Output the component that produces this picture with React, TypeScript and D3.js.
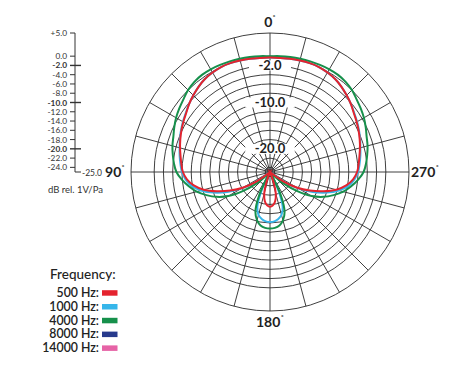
import React from 'react';
import * as d3 from 'd3';

// Polar angles (degrees, counter-clockwise from 0° at top; 90° on the left)
const angles = [
  0, 5, 10, 15, 20, 25, 30, 35, 40, 45, 50, 55, 60, 65, 70, 75, 80, 85,
  90, 95, 100, 105, 110, 115, 120, 125, 130, 135, 140, 145, 150, 155, 160, 165, 170, 175,
  180, 185, 190, 195, 200, 205, 210, 215, 220, 225, 230, 235, 240, 245, 250, 255, 260, 265,
  270, 275, 280, 285, 290, 295, 300, 305, 310, 315, 320, 325, 330, 335, 340, 345, 350, 355,
];

// dB rel. 1V/Pa
const hz500 = [
  -0.3, -0.3, -0.2, -0.1, 0.0, 0.0, -0.2, -0.5, -1.0, -1.6, -2.2, -2.9, -3.4, -3.9, -4.4, -4.9, -5.4, -5.8,
  -6.2, -7.0, -8.3, -10.2, -12.8, -15.5, -18.2, -21.5, -25, -25, -25, -25, -25, -25, -23, -20.2, -18.6, -17.8,
  -17.5, -17.8, -18.6, -20.2, -23, -25, -25, -25, -25, -25, -25, -21.5, -18.2, -15.5, -12.8, -10.2, -8.3, -7.0,
  -6.2, -5.8, -5.4, -4.9, -4.4, -3.9, -3.4, -2.9, -2.2, -1.6, -1.0, -0.5, -0.2, 0.0, 0.0, -0.1, -0.2, -0.3,
];
const hz1000 = [
  -0.3, -0.3, -0.2, -0.1, 0.0, 0.0, -0.2, -0.5, -1.0, -1.6, -2.2, -2.8, -3.3, -3.8, -4.3, -4.8, -5.2, -5.6,
  -6.0, -6.7, -7.8, -9.6, -12.0, -14.8, -17.8, -21.5, -25, -25, -25, -25, -25, -21, -17, -15.4, -14.7, -14.3,
  -14.2, -14.3, -14.7, -15.4, -17, -21, -25, -25, -25, -25, -25, -21.5, -17.8, -14.8, -12.0, -9.6, -7.8, -6.7,
  -6.0, -5.6, -5.2, -4.8, -4.3, -3.8, -3.3, -2.8, -2.2, -1.6, -1.0, -0.5, -0.2, 0.0, 0.0, -0.1, -0.2, -0.3,
];
const hz4000 = [
  0.0, 0.1, 0.2, 0.3, 0.4, 0.5, 0.6, 0.6, 0.4, 0.0, -0.6, -1.1, -1.6, -2.2, -2.8, -3.2, -3.7, -4.2,
  -4.8, -5.9, -7.2, -8.6, -10.4, -12.3, -14.6, -17.8, -21.0, -24.5, -25, -25, -25, -19.5, -15.8, -14.2, -13.3, -12.9,
  -12.8, -12.9, -13.3, -14.2, -15.8, -19.5, -25, -25, -25, -24.5, -21.0, -17.8, -14.6, -12.3, -10.4, -8.6, -7.2, -5.9,
  -4.8, -4.2, -3.7, -3.2, -2.8, -2.2, -1.6, -1.1, -0.6, 0.0, 0.4, 0.6, 0.6, 0.5, 0.4, 0.3, 0.2, 0.1,
];

const legendLabels = ['500 Hz:', '1000 Hz:', '4000 Hz:', '8000 Hz:', '14000 Hz:'];
const legendColors = ['#e4232e', '#36b6ea', '#16904b', '#273a8c', '#e663a6'];

const ringLevels = [5, 0, -2, -4, -6, -8, -10, -12, -14, -16, -18, -20, -22, -24];
const scaleTicks = ['+5.0', '0.0', '-2.0', '-4.0', '-6.0', '-8.0', '-10.0', '-12.0', '-14.0', '-16.0', '-18.0', '-20.0', '-22.0', '-24.0'];
const boldLevels = [-2, -10, -20];
const ringLabels = ['-2.0', '-10.0', '-20.0'];
const spokeAngles = [0, 15, 30, 45, 60, 75, 90, 105, 120, 135, 150, 165, 180, 195, 210, 225, 240, 255, 270, 285, 300, 315, 330, 345];
const angleLabels = [
  { deg: 0, text: '0' },
  { deg: 90, text: '90' },
  { deg: 180, text: '180' },
  { deg: 270, text: '270' },
];

const W = 474;
const H = 379;
const cx = 270;
const cy = 172;
const R = 139;
const FONT = 'Lato, "Open Sans", sans-serif';

export default function App() {
  const r = d3.scaleLinear().domain([-25, 5]).range([0, R]).clamp(true);
  const series = [
    { vals: hz1000, color: legendColors[1] },
    { vals: hz4000, color: legendColors[2] },
    { vals: hz500, color: legendColors[0] },
  ];
  const radial = d3
    .lineRadial<number>()
    .angle((_d, i) => (-angles[i] * Math.PI) / 180)
    .radius((d) => r(d))
    .curve(d3.curveCatmullRomClosed.alpha(0.5));

  const axisX = 75;
  const yScale = (db: number) => cy - r(db);
  const scaleLevels = ringLevels;

  return (
    <svg width={W} height={H} style={{ position: 'absolute', left: 0, top: 0, background: '#fff' }}>
      <rect x={0} y={0} width={W} height={H} fill="#fff" />
      {/* polar grid */}
      <g transform={`translate(${cx},${cy})`} stroke="#2a2a2a" fill="none" strokeWidth={0.9}>
        {ringLevels.map((lv) => (
          <circle key={lv} r={r(lv)} />
        ))}
        {spokeAngles.map((a) => {
          const t = (a * Math.PI) / 180;
          return <line key={a} x1={0} y1={0} x2={-R * Math.sin(t)} y2={-R * Math.cos(t)} />;
        })}
      </g>
      {/* ring labels */}
      {boldLevels.map((lv, i) => {
        const y = cy - r(lv);
        const w = ringLabels[i].length * 7.5 + 12;
        return (
          <g key={lv}>
            <rect x={cx - w / 2} y={y - 5} width={w} height={10} fill="#fff" />
            <text x={cx} y={y + 4.5} textAnchor="middle" fontFamily={FONT} fontWeight={700} fontSize={13} fill="#222">
              {ringLabels[i]}
            </text>
          </g>
        );
      })}
      {/* curves */}
      <g transform={`translate(${cx},${cy})`} fill="none" strokeWidth={2}>
        {series.map((s, i) => (
          <path key={i} d={radial(s.vals) || ''} stroke={s.color} />
        ))}
      </g>
      {/* angle labels */}
      {angleLabels.map((a) => {
        const t = (a.deg * Math.PI) / 180;
        const off = a.deg === 0 || a.deg === 180 ? R + 11 : R + 16;
        const x = cx - off * Math.sin(t);
        const y = cy - off * Math.cos(t);
        return (
          <text key={a.deg} x={x} y={y + 5} textAnchor="middle" fontFamily={FONT} fontWeight={700} fontSize={14} fill="#222">
            {a.text}
            <tspan fontSize={9} dy={-5}>˚</tspan>
          </text>
        );
      })}
      {/* left dB scale */}
      <g stroke="#333" strokeWidth={1}>
        <line x1={axisX} y1={yScale(5)} x2={axisX} y2={yScale(-25)} />
        <line x1={axisX} y1={yScale(-25)} x2={axisX + 6} y2={yScale(-25)} />
        {scaleLevels.map((lv) => {
          const bold = boldLevels.includes(lv);
          return (
            <line key={lv} x1={axisX - 5} x2={bold ? axisX + 6 : axisX} y1={yScale(lv)} y2={yScale(lv)} strokeWidth={bold ? 1.4 : 1} />
          );
        })}
      </g>
      {scaleLevels.map((lv, i) => {
        const bold = boldLevels.includes(lv);
        return (
          <text key={lv} x={axisX - 8} y={yScale(lv) + 3} textAnchor="end" fontFamily={FONT} fontSize={8.3} fontWeight={bold ? 700 : 400} fill="#333">
            {scaleTicks[i]}
          </text>
        );
      })}
      <text x={axisX + 7} y={yScale(-25) + 3.5} fontFamily={FONT} fontSize={8.5} fill="#333">
        -25.0
      </text>
      <text x={48} y={193} fontFamily={FONT} fontSize={9.5} fill="#333">
        dB rel. 1V/Pa
      </text>
      {/* legend */}
      <text x={50} y={279} fontFamily={FONT} fontSize={13.5} fontWeight={500} fill="#222">
        Frequency:
      </text>
      {legendLabels.map((lab, i) => {
        const y = 292.7 + i * 13.8;
        return (
          <g key={lab}>
            <text x={99} y={y + 4.3} textAnchor="end" fontFamily={FONT} fontSize={12.3} fontWeight={600} fill="#222">
              {lab}
            </text>
            <rect x={102} y={y - 2.5} width={15.5} height={5.5} fill={legendColors[i]} />
          </g>
        );
      })}
    </svg>
  );
}
